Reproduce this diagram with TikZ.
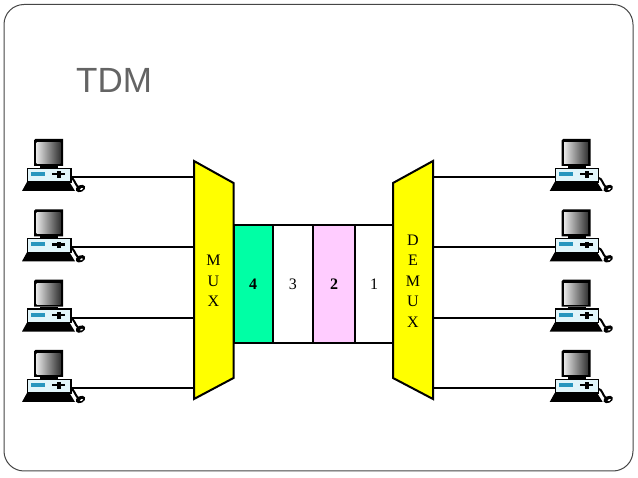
\documentclass[tikz,border=0pt]{standalone}
\usepackage{fontspec}
\setmainfont{Liberation Serif}
\newfontfamily\titlefont{Liberation Sans}
\definecolor{slotgreen}{RGB}{0,255,165}
\definecolor{slotpink}{RGB}{255,204,255}
\definecolor{boxyellow}{RGB}{255,255,0}
\definecolor{framegray}{RGB}{70,70,70}
\definecolor{titlegray}{RGB}{100,100,100}
\definecolor{casetint}{RGB}{225,245,250}
\definecolor{drivecyan}{RGB}{40,150,190}
\tikzset{
	link/.style={line width=2pt},
	slot/.style={rectangle, draw, line width=2pt, minimum height=117.5pt, inner sep=0pt, outer sep=0pt, font=\fontsize{16}{20.4}\selectfont},
	boxlabel/.style={align=center, font=\fontsize{16}{20.4}\selectfont},
	pics/computer/.style={code={
		% mouse and its cord first
		\draw[line width=2pt] (37,39) .. controls (40,39) and (41,45) .. (44,48);
		\fill[rotate around={25:(46.5,49.5)}] (46.5,49.5) ellipse (5 and 3.4);
		\fill[white, rotate around={25:(47.5,50)}] (47.5,50) ellipse (1.8 and .9);
		% monitor
		\fill[black] (0,1.5) -- (1.5,0) -- (29,0) -- (29,27) -- (0,27) -- cycle;
		\shade[left color=white!90!black, right color=black!80] (2.5,3.5) rectangle (26.5,24.5);
		\fill[black] (6,27) rectangle (24,30);
		% case
		\draw[line width=1.4pt, fill=casetint] (-6.5,29.5) rectangle (37,43);
		\fill[drivecyan] (-3,33) rectangle (11,37);
		\fill[black] (18,34) rectangle (31,36.5);
		\fill[black] (23,32.5) rectangle (27,39);
		% keyboard
		\fill[black] (-7,43) -- (35.5,43) -- (41,52) -- (-12,52) -- cycle;
	}}
}
\begin{document}
\begin{tikzpicture}[x=1pt, y=-1pt]
	\useasboundingbox (0,0) rectangle (638,478);
	\fill[white] (0,0) rectangle (638,478);
	\draw[framegray, line width=1pt, rounded corners=20pt] (4,4.5) rectangle (633,471);
	\node[titlegray, anchor=west, inner sep=0pt, font=\titlefont\fontsize{35}{35}\selectfont] (title) at (76,80) {TDM};

	% computers and their lines
	\foreach \i/\y in {1/177, 2/247.3, 3/317.6, 4/388} {
		\pic at (34,\y-38) {computer};
		\pic at (561.7,\y-38) {computer};
		\coordinate (pcl\i) at (71,\y);
		\coordinate (pcr\i) at (555,\y);
		\coordinate (muxin\i) at (194,\y);
		\coordinate (demuxout\i) at (433,\y);
		\draw[link] (pcl\i) -- (muxin\i);
		\draw[link] (demuxout\i) -- (pcr\i);
	}

	% time slots
	\node[slot, fill=slotgreen, minimum width=39pt, font=\fontsize{16}{20.4}\selectfont\bfseries] (slotd) at (253,284) {4};
	\node[slot, minimum width=40.5pt, anchor=west] (slotc) at (slotd.east) {3};
	\node[slot, fill=slotpink, minimum width=42pt, font=\fontsize{16}{20.4}\selectfont\bfseries, anchor=west] (slotb) at (slotc.east) {2};
	\node[slot, minimum width=38pt, anchor=west] (slota) at (slotb.east) {1};

	% mux and demux
	\draw[line width=2pt, fill=boxyellow] (194,161) -- (233.5,183) -- (233.5,378) -- (194,399) -- cycle;
	\draw[line width=2pt, fill=boxyellow] (433,161) -- (393,183) -- (393,378) -- (433,399) -- cycle;
	\node[boxlabel] (mux) at (213.5,281) {M\\U\\X};
	\node[boxlabel] (demux) at (413,281) {D\\E\\M\\U\\X};
\end{tikzpicture}
\end{document}
